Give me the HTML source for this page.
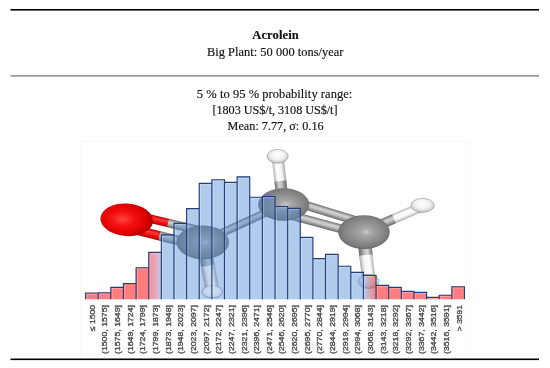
<!DOCTYPE html>
<html><head><meta charset="utf-8"><style>
html,body{margin:0;padding:0;background:#fff;}
body{width:550px;height:368px;overflow:hidden;}
svg{display:block;}
.t{font-family:"Liberation Serif",serif;fill:#111;stroke:#111;stroke-width:0.15px;}
.lab{font-family:"Liberation Sans",sans-serif;font-size:8.0px;fill:#4a4a4a;stroke:#4a4a4a;stroke-width:0.35px;text-anchor:end;}
</style></head><body>
<svg width="550" height="368" viewBox="0 0 550 368">
<defs>
 <radialGradient id="gO" cx="0.42" cy="0.45" r="0.64" fx="0.42" fy="0.5">
  <stop offset="0" stop-color="#ff4444"/><stop offset="0.35" stop-color="#f41010"/><stop offset="0.7" stop-color="#e00000"/><stop offset="0.88" stop-color="#b80000"/><stop offset="1" stop-color="#8a0000"/>
 </radialGradient>
 <radialGradient id="gC" cx="0.5" cy="0.48" r="0.56" fx="0.55" fy="0.5">
  <stop offset="0" stop-color="#c8c8c8"/><stop offset="0.18" stop-color="#a8a8a8"/><stop offset="0.5" stop-color="#929191"/><stop offset="0.82" stop-color="#7c7b7b"/><stop offset="1" stop-color="#545454"/>
 </radialGradient>
 <radialGradient id="gH" cx="0.5" cy="0.45" r="0.58" fx="0.5" fy="0.35">
  <stop offset="0" stop-color="#ffffff"/><stop offset="0.55" stop-color="#f2f2f2"/><stop offset="0.85" stop-color="#d0d0d0"/><stop offset="1" stop-color="#9a9a9a"/>
 </radialGradient>
 <linearGradient id="cG" x1="0" x2="0" y1="0" y2="1">
  <stop offset="0" stop-color="#6e6e6e"/><stop offset="0.35" stop-color="#d2d2d2"/><stop offset="0.55" stop-color="#c4c4c4"/><stop offset="1" stop-color="#666"/>
 </linearGradient>
 <linearGradient id="cR" x1="0" x2="0" y1="0" y2="1">
  <stop offset="0" stop-color="#c00000"/><stop offset="0.35" stop-color="#ff3a3a"/><stop offset="0.6" stop-color="#f51414"/><stop offset="1" stop-color="#b00000"/>
 </linearGradient>
 <linearGradient id="cW" x1="0" x2="0" y1="0" y2="1">
  <stop offset="0" stop-color="#b4b4b4"/><stop offset="0.3" stop-color="#ffffff"/><stop offset="0.7" stop-color="#f4f4f4"/><stop offset="1" stop-color="#a8a8a8"/>
 </linearGradient>
 <linearGradient id="gPB" x1="0" x2="1" y1="0" y2="0">
  <stop offset="0" stop-color="rgb(253,136,144)"/><stop offset="0.5" stop-color="rgb(234,166,184)"/><stop offset="1" stop-color="rgb(190,203,236)"/>
 </linearGradient>
 <linearGradient id="gBP" x1="0" x2="1" y1="0" y2="0">
  <stop offset="0" stop-color="rgba(80,140,210,0.45)"/><stop offset="1" stop-color="rgba(255,19,24,0.55)"/>
 </linearGradient>
</defs>
<rect x="10.5" y="9" width="528.5" height="1.6" fill="#000"/>
<rect x="10.5" y="75" width="528.5" height="1.7" fill="#999"/>
<rect x="10.5" y="358.5" width="528.5" height="1.6" fill="#000"/>
<path d="M80.5 357V141.5H469.5V357" fill="none" stroke="#f7f7f7" stroke-width="1"/>
<text class="t" x="275.5" y="39" text-anchor="middle" font-weight="bold" font-size="12.6" textLength="46.5">Acrolein</text>
<text class="t" x="275.2" y="55.6" text-anchor="middle" font-size="12.4" textLength="136.5">Big Plant: 50 000 tons/year</text>
<text class="t" x="274.6" y="97.5" text-anchor="middle" font-size="12.5" textLength="155.5">5 % to 95 % probability range:</text>
<text class="t" x="275" y="114.1" text-anchor="middle" font-size="12.2" textLength="125">[1803 US$/t, 3108 US$/t]</text>
<text class="t" x="275.6" y="129.8" text-anchor="middle" font-size="12.2" textLength="96">Mean: 7.77, σ: 0.16</text>
<g><rect transform="translate(128.0,213.5) rotate(13.31)" x="0" y="-4.25" width="42.1" height="8.5" fill="url(#cR)"/><rect transform="translate(168.0,223.0) rotate(13.19)" x="0" y="-4.25" width="32.9" height="8.5" fill="url(#cG)"/><rect transform="translate(126.0,227.3) rotate(14.35)" x="0" y="-4.75" width="35.1" height="9.5" fill="url(#cR)"/><rect transform="translate(159.5,235.8) rotate(13.86)" x="0" y="-4.75" width="39.7" height="9.5" fill="url(#cG)"/><rect transform="translate(203.0,241.7) rotate(-24.75)" x="0" y="-4.00" width="88.9" height="8" fill="url(#cG)"/><rect transform="translate(290.0,200.5) rotate(16.99)" x="0" y="-4.50" width="75.3" height="9" fill="url(#cG)"/><rect transform="translate(288.0,214.5) rotate(15.15)" x="0" y="-4.50" width="74.6" height="9" fill="url(#cG)"/><rect transform="translate(282.0,196.0) rotate(-96.23)" x="0" y="-6.00" width="16.6" height="12" fill="url(#cG)"/><rect transform="translate(280.4,181.0) rotate(-96.65)" x="0" y="-6.00" width="24.2" height="12" fill="url(#cW)"/><rect transform="translate(205.4,252.0) rotate(80.41)" x="0" y="-6.90" width="15.0" height="13.8" fill="url(#cG)"/><rect transform="translate(207.6,265.5) rotate(78.69)" x="0" y="-6.90" width="24.0" height="13.8" fill="url(#cW)"/><rect transform="translate(364.6,242.0) rotate(84.37)" x="0" y="-6.75" width="14.3" height="13.5" fill="url(#cG)"/><rect transform="translate(365.8,255.0) rotate(82.87)" x="0" y="-6.75" width="24.2" height="13.5" fill="url(#cW)"/><rect transform="translate(372.0,228.5) rotate(-23.92)" x="0" y="-4.90" width="25.2" height="9.8" fill="url(#cG)"/><rect transform="translate(394.0,218.7) rotate(-23.12)" x="0" y="-4.90" width="28.3" height="9.8" fill="url(#cW)"/>
 <ellipse cx="126.7" cy="219.8" rx="26.3" ry="16.3" fill="url(#gO)" transform="rotate(4 126.7 219.8)"/>
 <ellipse cx="202.8" cy="242.3" rx="26.1" ry="16.9" fill="url(#gC)"/>
 <ellipse cx="283.7" cy="204.5" rx="25.5" ry="16.2" fill="url(#gC)"/>
 <ellipse cx="364" cy="232.1" rx="25.8" ry="16.9" fill="url(#gC)"/>
 <ellipse cx="277.6" cy="156.3" rx="10.6" ry="6.9" fill="url(#gH)" stroke="#9a9a9a" stroke-width="0.6"/>
 <ellipse cx="422.5" cy="205.4" rx="11.7" ry="7" fill="url(#gH)" stroke="#9a9a9a" stroke-width="0.6"/>
 <ellipse cx="212.3" cy="291.8" rx="10.4" ry="6.3" fill="url(#gH)" stroke="#9a9a9a" stroke-width="0.6"/>
 <ellipse cx="368.7" cy="281.4" rx="10.5" ry="7.1" fill="url(#gH)" stroke="#9a9a9a" stroke-width="0.6"/>
</g>
<g><rect x="85.56" y="293.0" width="12.63" height="6.3" fill="rgba(255,19,24,0.55)"/><rect x="98.19" y="292.7" width="12.63" height="6.6" fill="rgba(255,19,24,0.55)"/><rect x="110.82" y="287.4" width="12.63" height="11.9" fill="rgba(255,19,24,0.55)"/><rect x="123.45" y="283.6" width="12.63" height="15.7" fill="rgba(255,19,24,0.55)"/><rect x="136.08" y="267.7" width="12.63" height="31.6" fill="rgba(255,19,24,0.55)"/><rect x="148.71" y="252.3" width="12.63" height="47.0" fill="url(#gPB)"/><rect x="161.34" y="234.9" width="12.63" height="64.4" fill="rgba(80,140,210,0.45)"/><rect x="173.97" y="223.3" width="12.63" height="76.0" fill="rgba(80,140,210,0.45)"/><rect x="186.60" y="208.6" width="12.63" height="90.7" fill="rgba(80,140,210,0.45)"/><rect x="199.23" y="183.4" width="12.63" height="115.9" fill="rgba(80,140,210,0.45)"/><rect x="211.86" y="179.7" width="12.63" height="119.6" fill="rgba(80,140,210,0.45)"/><rect x="224.49" y="182.3" width="12.63" height="117.0" fill="rgba(80,140,210,0.45)"/><rect x="237.12" y="176.8" width="12.63" height="122.5" fill="rgba(80,140,210,0.45)"/><rect x="249.75" y="197.2" width="12.63" height="102.1" fill="rgba(80,140,210,0.45)"/><rect x="262.38" y="196.5" width="12.63" height="102.8" fill="rgba(80,140,210,0.45)"/><rect x="275.01" y="206.5" width="12.63" height="92.8" fill="rgba(80,140,210,0.45)"/><rect x="287.64" y="208.3" width="12.63" height="91.0" fill="rgba(80,140,210,0.45)"/><rect x="300.27" y="237.4" width="12.63" height="61.9" fill="rgba(80,140,210,0.45)"/><rect x="312.90" y="258.6" width="12.63" height="40.7" fill="rgba(80,140,210,0.45)"/><rect x="325.53" y="254.4" width="12.63" height="44.9" fill="rgba(80,140,210,0.45)"/><rect x="338.16" y="266.2" width="12.63" height="33.1" fill="rgba(80,140,210,0.45)"/><rect x="350.79" y="272.4" width="12.63" height="26.9" fill="rgba(80,140,210,0.45)"/><rect x="363.42" y="275.4" width="12.63" height="23.9" fill="url(#gBP)"/><rect x="376.05" y="285.4" width="12.63" height="13.9" fill="rgba(255,19,24,0.55)"/><rect x="388.68" y="287.3" width="12.63" height="12.0" fill="rgba(255,19,24,0.55)"/><rect x="401.31" y="291.3" width="12.63" height="8.0" fill="rgba(255,19,24,0.55)"/><rect x="413.94" y="292.4" width="12.63" height="6.9" fill="rgba(255,19,24,0.55)"/><rect x="426.57" y="297.3" width="12.63" height="2.0" fill="rgba(255,19,24,0.55)"/><rect x="439.20" y="295.2" width="12.63" height="4.1" fill="rgba(255,19,24,0.55)"/><rect x="451.83" y="286.7" width="12.63" height="12.6" fill="rgba(255,19,24,0.55)"/></g>
<g opacity="0.35"><rect transform="translate(207.8,266.5) rotate(78.69)" x="0" y="-5.75" width="22.9" height="11.5" fill="url(#cW)"/><ellipse cx="212.3" cy="291.8" rx="9.6" ry="5.6" fill="#fff"/></g>
<path d="M86.81 299.3V294.2H97.49M99.44 299.3V293.9H110.12M112.07 299.3V288.6H122.75M124.70 299.3V284.9H135.38M137.33 299.3V268.9H148.01M149.96 299.3V253.6H160.64M162.59 299.3V236.2H173.27M175.22 299.3V224.6H185.90M187.85 299.3V209.8H198.53M200.48 299.3V184.7H211.16M213.11 299.3V180.9H223.79M225.74 299.3V183.6H236.42M238.37 299.3V178.1H249.05M251.00 299.3V198.4H261.68M263.63 299.3V197.8H274.31M276.26 299.3V207.8H286.94M288.89 299.3V209.6H299.57M301.52 299.3V238.7H312.20M314.15 299.3V259.9H324.83M326.78 299.3V255.7H337.46M339.41 299.3V267.4H350.09M352.04 299.3V273.6H362.72M364.67 299.3V276.6H375.35M377.30 299.3V286.6H387.98M389.93 299.3V288.6H400.61M402.56 299.3V292.6H413.24M415.19 299.3V293.6H425.87M427.82 299.3V298.6H438.50M440.45 299.3V296.4H451.13M453.08 299.3V287.9H463.76" fill="none" stroke="#fff" stroke-opacity="0.28" stroke-width="1"/>
<path d="M85.56 299.3V293.0H98.19V299.3M98.19 299.3V292.7H110.82V299.3M110.82 299.3V287.4H123.45V299.3M123.45 299.3V283.6H136.08V299.3M136.08 299.3V267.7H148.71V299.3M148.71 299.3V252.3H161.34V299.3M161.34 299.3V234.9H173.97V299.3M173.97 299.3V223.3H186.60V299.3M186.60 299.3V208.6H199.23V299.3M199.23 299.3V183.4H211.86V299.3M211.86 299.3V179.7H224.49V299.3M224.49 299.3V182.3H237.12V299.3M237.12 299.3V176.8H249.75V299.3M249.75 299.3V197.2H262.38V299.3M262.38 299.3V196.5H275.01V299.3M275.01 299.3V206.5H287.64V299.3M287.64 299.3V208.3H300.27V299.3M300.27 299.3V237.4H312.90V299.3M312.90 299.3V258.6H325.53V299.3M325.53 299.3V254.4H338.16V299.3M338.16 299.3V266.2H350.79V299.3M350.79 299.3V272.4H363.42V299.3M363.42 299.3V275.4H376.05V299.3M376.05 299.3V285.4H388.68V299.3M388.68 299.3V287.3H401.31V299.3M401.31 299.3V291.3H413.94V299.3M413.94 299.3V292.4H426.57V299.3M426.57 299.3V297.3H439.20V299.3M439.20 299.3V295.2H451.83V299.3M451.83 299.3V286.7H464.46V299.3" fill="none" stroke="#233e7a" stroke-width="1.15"/>
<g class="lab"><text transform="translate(94.70,305) rotate(-90)" textLength="26.2" lengthAdjust="spacingAndGlyphs">≤ 1500</text><text transform="translate(107.35,305) rotate(-90)" textLength="49.0" lengthAdjust="spacingAndGlyphs">(1500, 1575]</text><text transform="translate(120.00,305) rotate(-90)" textLength="49.0" lengthAdjust="spacingAndGlyphs">(1575, 1649]</text><text transform="translate(132.65,305) rotate(-90)" textLength="49.0" lengthAdjust="spacingAndGlyphs">(1649, 1724]</text><text transform="translate(145.30,305) rotate(-90)" textLength="49.0" lengthAdjust="spacingAndGlyphs">(1724, 1799]</text><text transform="translate(157.95,305) rotate(-90)" textLength="49.0" lengthAdjust="spacingAndGlyphs">(1799, 1873]</text><text transform="translate(170.60,305) rotate(-90)" textLength="49.0" lengthAdjust="spacingAndGlyphs">(1873, 1948]</text><text transform="translate(183.25,305) rotate(-90)" textLength="49.0" lengthAdjust="spacingAndGlyphs">(1948, 2023]</text><text transform="translate(195.90,305) rotate(-90)" textLength="49.0" lengthAdjust="spacingAndGlyphs">(2023, 2097]</text><text transform="translate(208.55,305) rotate(-90)" textLength="49.0" lengthAdjust="spacingAndGlyphs">(2097, 2172]</text><text transform="translate(221.20,305) rotate(-90)" textLength="49.0" lengthAdjust="spacingAndGlyphs">(2172, 2247]</text><text transform="translate(233.85,305) rotate(-90)" textLength="49.0" lengthAdjust="spacingAndGlyphs">(2247, 2321]</text><text transform="translate(246.50,305) rotate(-90)" textLength="49.0" lengthAdjust="spacingAndGlyphs">(2321, 2396]</text><text transform="translate(259.15,305) rotate(-90)" textLength="49.0" lengthAdjust="spacingAndGlyphs">(2396, 2471]</text><text transform="translate(271.80,305) rotate(-90)" textLength="49.0" lengthAdjust="spacingAndGlyphs">(2471, 2546]</text><text transform="translate(284.45,305) rotate(-90)" textLength="49.0" lengthAdjust="spacingAndGlyphs">(2546, 2620]</text><text transform="translate(297.10,305) rotate(-90)" textLength="49.0" lengthAdjust="spacingAndGlyphs">(2620, 2695]</text><text transform="translate(309.75,305) rotate(-90)" textLength="49.0" lengthAdjust="spacingAndGlyphs">(2695, 2770]</text><text transform="translate(322.40,305) rotate(-90)" textLength="49.0" lengthAdjust="spacingAndGlyphs">(2770, 2844]</text><text transform="translate(335.05,305) rotate(-90)" textLength="49.0" lengthAdjust="spacingAndGlyphs">(2844, 2919]</text><text transform="translate(347.70,305) rotate(-90)" textLength="49.0" lengthAdjust="spacingAndGlyphs">(2919, 2994]</text><text transform="translate(360.35,305) rotate(-90)" textLength="49.0" lengthAdjust="spacingAndGlyphs">(2994, 3068]</text><text transform="translate(373.00,305) rotate(-90)" textLength="49.0" lengthAdjust="spacingAndGlyphs">(3068, 3143]</text><text transform="translate(385.65,305) rotate(-90)" textLength="49.0" lengthAdjust="spacingAndGlyphs">(3143, 3218]</text><text transform="translate(398.30,305) rotate(-90)" textLength="49.0" lengthAdjust="spacingAndGlyphs">(3218, 3292]</text><text transform="translate(410.95,305) rotate(-90)" textLength="49.0" lengthAdjust="spacingAndGlyphs">(3292, 3367]</text><text transform="translate(423.60,305) rotate(-90)" textLength="49.0" lengthAdjust="spacingAndGlyphs">(3367, 3442]</text><text transform="translate(436.25,305) rotate(-90)" textLength="49.0" lengthAdjust="spacingAndGlyphs">(3442, 3516]</text><text transform="translate(448.90,305) rotate(-90)" textLength="49.0" lengthAdjust="spacingAndGlyphs">(3516, 3591]</text><text transform="translate(461.55,305) rotate(-90)" textLength="26.2" lengthAdjust="spacingAndGlyphs">&gt; 3591</text></g>
</svg>
</body></html>
